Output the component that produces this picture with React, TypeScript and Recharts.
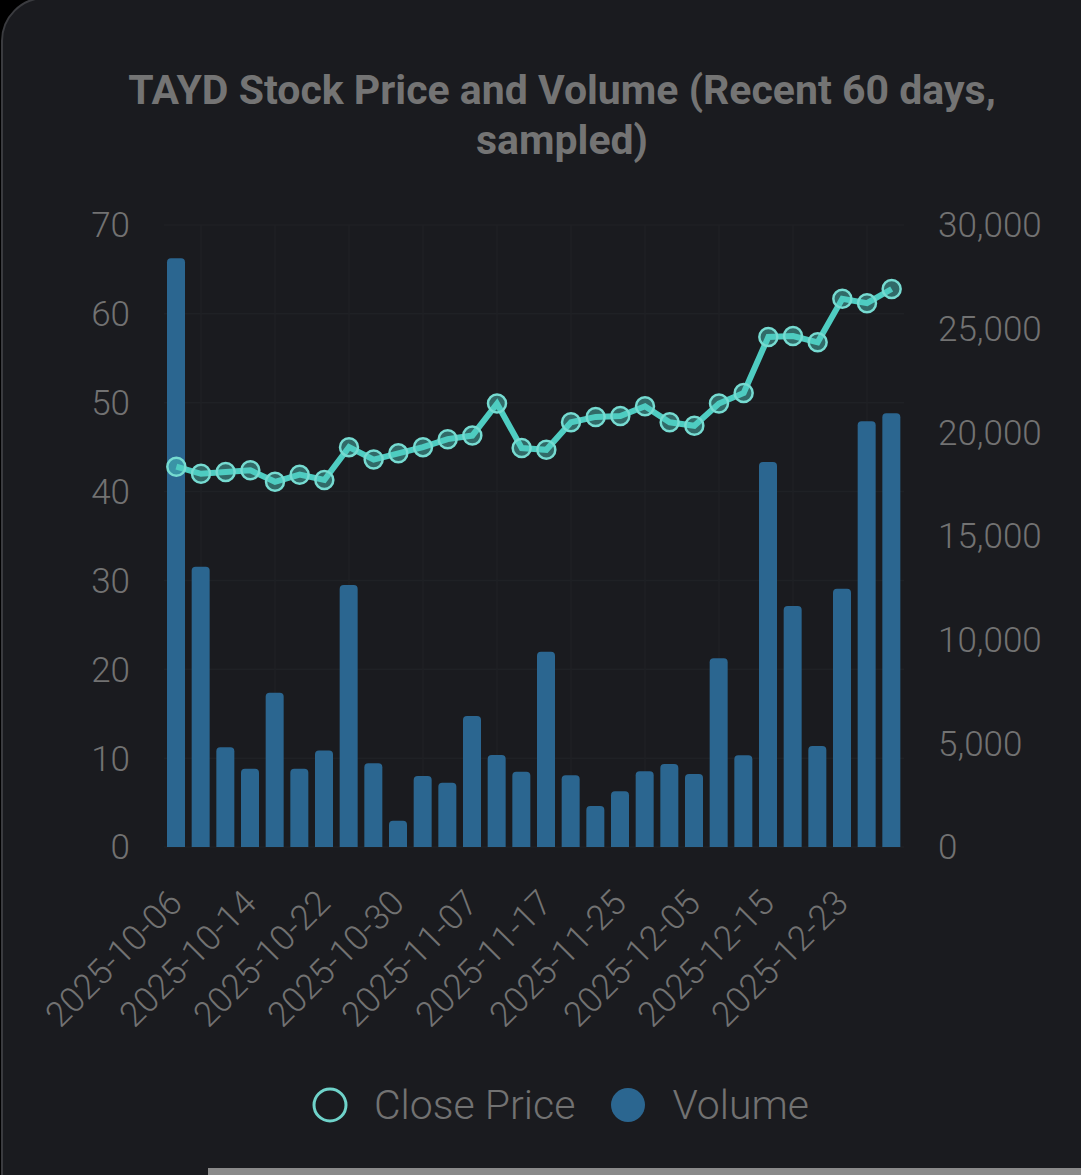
import {
  ComposedChart,
  Bar,
  Line,
  XAxis,
  YAxis,
  CartesianGrid,
  Legend,
} from "recharts";

// sampled trading days (every other session)
const dates = [
  "2025-10-06", "2025-10-08", "2025-10-10", "2025-10-14", "2025-10-16",
  "2025-10-20", "2025-10-22", "2025-10-24", "2025-10-28", "2025-10-30",
  "2025-11-03", "2025-11-05", "2025-11-07", "2025-11-11", "2025-11-13",
  "2025-11-17", "2025-11-19", "2025-11-21", "2025-11-25", "2025-11-28",
  "2025-12-02", "2025-12-05", "2025-12-09", "2025-12-11", "2025-12-15",
  "2025-12-17", "2025-12-19", "2025-12-23", "2025-12-26", "2025-12-30",
];

const closePrices = [
  42.8, 42.0, 42.2, 42.4, 41.1, 41.9, 41.3, 45.0, 43.6, 44.3,
  45.0, 45.9, 46.3, 49.9, 44.9, 44.7, 47.8, 48.4, 48.5, 49.6,
  47.8, 47.4, 49.9, 51.1, 57.4, 57.5, 56.8, 61.7, 61.2, 62.8,
];

const volumes = [
  28400, 13520, 4810, 3780, 7440, 3780, 4650, 12640, 4040, 1270,
  3420, 3100, 6320, 4440, 3630, 9420, 3460, 1980, 2690, 3650,
  4000, 3520, 9100, 4420, 18570, 11620, 4870, 12460, 20530, 20920,
];

const priceTicks = [0, 10, 20, 30, 40, 50, 60, 70];
const volumeTicks = [0, 5000, 10000, 15000, 20000, 25000, 30000];

const data = dates.map((date, i) => ({
  date,
  close: closePrices[i],
  volume: volumes[i],
}));

const FONT = "Roboto, 'Noto Sans', sans-serif";
const TEXT = "#727272";
const LINE = "#4fcdc2";
const BAR = "#2b6690";

const DateTick = ({ x, y, payload }: any) => (
  <g transform={`translate(${x + 8},${y + 50})`}>
    <text
      x={0}
      y={0}
      textAnchor="end"
      transform="rotate(-45)"
      fill={TEXT}
      fontSize={35}
      fontWeight={300}
      fontFamily={FONT}
    >
      {payload.value}
    </text>
  </g>
);

const LegendContent = ({ payload }: any) => (
  <div
    style={{
      display: "flex",
      justifyContent: "center",
      alignItems: "center",
      height: 60,
      fontFamily: FONT,
      fontWeight: 300,
      fontSize: 41,
      color: TEXT,
    }}
  >
    {(payload || []).map((entry: any) => {
      const isLine = entry.dataKey === "close";
      return (
        <div
          key={entry.value}
          style={{ display: "flex", alignItems: "center", margin: "0 17px" }}
        >
          <svg width={38} height={38} style={{ marginRight: 25 }}>
            {isLine ? (
              <circle cx={19} cy={19} r={16} fill="none" stroke="#6fd3ca" strokeWidth={3} />
            ) : (
              <circle cx={19} cy={19} r={17} fill={BAR} />
            )}
          </svg>
          <span>{entry.value}</span>
        </div>
      );
    })}
  </div>
);

export default function App() {
  return (
    <div
      style={{
        position: "fixed",
        left: 0,
        top: 0,
        width: 1081,
        height: 1175,
        background: "#000",
        overflow: "hidden",
      }}
    >
      <div
        style={{
          position: "absolute",
          left: 1,
          top: -3,
          width: 1200,
          height: 1300,
          background: "#1a1b1f",
          border: "2px solid #3a3b3f",
          borderTopLeftRadius: 44,
        }}
      />
      <div
        style={{
          position: "absolute",
          left: 0,
          top: 65,
          width: 1124,
          textAlign: "center",
          fontFamily: FONT,
          fontWeight: 700,
          fontSize: 41,
          lineHeight: "50px",
          color: "#747474",
        }}
      >
        TAYD Stock Price and Volume (Recent 60 days,
        <br />
        sampled)
      </div>
      <div style={{ position: "absolute", left: 0, top: 0 }}>
        <ComposedChart
          width={1081}
          height={1175}
          data={data}
          margin={{ top: 225, right: 0, left: 0, bottom: 40 }}
          barSize={18}
        >
          <CartesianGrid
            yAxisId="price"
            stroke="#1f2125"
            strokeWidth={1.5}
            verticalCoordinatesGenerator={({ offset }: any) =>
              Array.from({ length: 10 }, (_, k) =>
                offset.left + (offset.width * (1.5 + 3 * k)) / dates.length
              )
            }
          />
          <XAxis
            dataKey="date"
            interval={2}
            height={228}
            axisLine={false}
            tickLine={false}
            tick={<DateTick />}
          />
          <YAxis
            yAxisId="price"
            orientation="left"
            width={164}
            domain={[0, 70]}
            ticks={priceTicks}
            axisLine={false}
            tickLine={false}
            tickMargin={28}
            tick={{ fill: TEXT, fontSize: 35, fontWeight: 300, fontFamily: FONT }}
          />
          <YAxis
            yAxisId="volume"
            orientation="right"
            width={177}
            domain={[0, 30000]}
            ticks={volumeTicks}
            axisLine={false}
            tickLine={false}
            tickMargin={28}
            tickFormatter={(v: number) => v.toLocaleString("en-US")}
            tick={{ fill: TEXT, fontSize: 35, fontWeight: 300, fontFamily: FONT }}
          />
          <Legend
            verticalAlign="bottom"
            content={<LegendContent />}
            wrapperStyle={{ left: 0, width: 1120 }}
          />
          <Bar
            yAxisId="volume"
            dataKey="volume"
            name="Volume"
            fill={BAR}
            radius={[4, 4, 0, 0]}
            isAnimationActive={false}
            legendType="circle"
          />
          <Line
            yAxisId="price"
            dataKey="close"
            name="Close Price"
            type="linear"
            stroke={LINE}
            strokeWidth={6}
            dot={{ r: 9, stroke: "#76dbd1", strokeWidth: 2.5, fill: "rgba(78,205,194,0.45)" }}
            activeDot={false}
            isAnimationActive={false}
            legendType="circle"
          />
        </ComposedChart>
      </div>
      <div
        style={{
          position: "absolute",
          left: 208,
          top: 1168,
          width: 900,
          height: 7,
          background: "#8a8a8a",
        }}
      />
    </div>
  );
}
